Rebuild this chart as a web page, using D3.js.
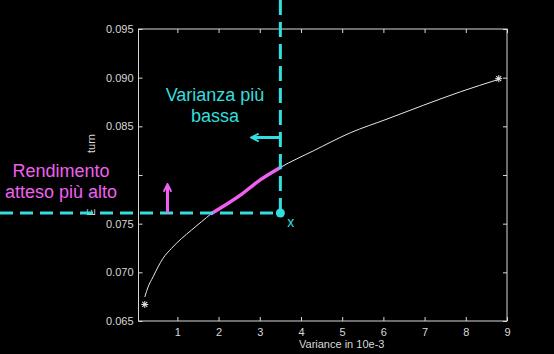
<!DOCTYPE html>
<html>
<head>
<meta charset="utf-8">
<script src="https://cdn.jsdelivr.net/npm/d3@7"></script>
<style>
  body { margin: 0; background: #000; }
  svg { display: block; font-family: "Liberation Sans", Arial, sans-serif; }
</style>
</head>
<body>
<div id="chart"></div>
<script>
// frontier points (variance in 10e-3, expected return)
const variance = [0.21, 0.29, 0.41, 0.53, 0.65, 0.855, 1.10, 1.34, 1.58, 1.83, 2.52, 3.01, 3.50, 4.30, 5.20, 6.09, 6.98, 7.87, 8.80];
const returns  = [0.06747, 0.06850, 0.06953, 0.07055, 0.07142, 0.07245, 0.07347, 0.07433, 0.07518, 0.07605, 0.0779, 0.0795, 0.08078, 0.08248, 0.08434, 0.08575, 0.08718, 0.08855, 0.08983];
const endpoints = [[0.21, 0.0667], [8.80, 0.0899]];
const xTicks = [1, 2, 3, 4, 5, 6, 7, 8, 9];
const yTicks = [0.065, 0.070, 0.075, 0.080, 0.085, 0.090, 0.095];
const hiddenYTick = 0.080;   // its label sits under the text box
const pointX = { v: 3.50, r: 0.0761 };   // portfolio x
const cyan = "#33dede", magenta = "#f060f0";

const width = 554, height = 354;
const margin = { top: 29, right: 47, bottom: 33, left: 138.5 };

const svg = d3.select("#chart").append("svg")
  .attr("width", width).attr("height", height);
svg.append("rect").attr("width", width).attr("height", height).attr("fill", "#000");

const x = d3.scaleLinear().domain([0.057, 9]).range([margin.left, width - margin.right]);
const y = d3.scaleLinear().domain([0.065, 0.095]).range([height - margin.bottom, margin.top]);

const axisColor = "#d8d8d8";
const fmtY = d3.format(".3f");

// axes with inward ticks
const gx = svg.append("g").attr("transform", `translate(0,${y.range()[0]})`)
  .call(d3.axisBottom(x).tickValues(xTicks).tickSize(-4).tickPadding(7).tickFormat(d3.format("d")));
const gxTop = svg.append("g").attr("transform", `translate(0,${y.range()[1]})`)
  .call(d3.axisTop(x).tickValues(xTicks).tickSize(-4).tickFormat(""));
const gy = svg.append("g").attr("transform", `translate(${x.range()[0]},0)`)
  .call(d3.axisLeft(y).tickValues(yTicks).tickSize(-4).tickPadding(5)
    .tickFormat(d => Math.abs(d - hiddenYTick) < 1e-9 ? "" : fmtY(d)));
const gyR = svg.append("g").attr("transform", `translate(${x.range()[1]},0)`)
  .call(d3.axisRight(y).tickValues(yTicks).tickSize(-4).tickFormat(""));

[gx, gxTop, gy, gyR].forEach(g => {
  g.select(".domain").remove();
  g.selectAll("line").attr("stroke", axisColor);
  g.selectAll("text").attr("fill", axisColor).style("font-size", "11px");
});

svg.append("rect")
  .attr("x", x.range()[0]).attr("y", y.range()[1])
  .attr("width", x.range()[1] - x.range()[0])
  .attr("height", y.range()[0] - y.range()[1])
  .attr("fill", "none").attr("stroke", axisColor).attr("stroke-width", 1);

// axis titles
svg.append("text")
  .attr("x", 299).attr("y", 348)
  .attr("fill", axisColor).style("font-size", "11px")
  .text("Variance in 10e-3");

svg.append("text")
  .attr("transform", `translate(95,${(y.range()[0] + y.range()[1]) / 2}) rotate(-90)`)
  .attr("text-anchor", "middle")
  .attr("fill", axisColor).style("font-size", "11px")
  .text("Expected Return");

// frontier curve
const pts = variance.map((v, i) => [v, returns[i]]);
const line = d3.line().x(d => x(d[0])).y(d => y(d[1])).curve(d3.curveMonotoneX);

svg.append("path")
  .attr("d", line(pts))
  .attr("fill", "none").attr("stroke", "#e8e8e8").attr("stroke-width", 1);

// highlighted part (higher return, lower variance)
const hi = pts.filter(d => d[0] >= 1.83 && d[0] <= pointX.v);
svg.append("path")
  .attr("d", line(hi))
  .attr("fill", "none").attr("stroke", magenta).attr("stroke-width", 3.5)
  .attr("stroke-linecap", "round");

// asterisk markers
const star = svg.selectAll("g.star").data(endpoints).enter().append("g")
  .attr("class", "star")
  .attr("transform", d => `translate(${x(d[0])},${y(d[1])})`);
[0, 45, 90, 135].forEach(a => {
  star.append("line")
    .attr("x1", -3.5).attr("x2", 3.5)
    .attr("transform", `rotate(${a})`)
    .attr("stroke", "#e8e8e8").attr("stroke-width", 1);
});

// black text box behind the magenta label (covers part of y title)
svg.append("rect")
  .attr("x", 0).attr("y", 153).attr("width", 134).attr("height", 56)
  .attr("fill", "#000");

// dashed guides
svg.append("line")
  .attr("x1", 0).attr("x2", x(pointX.v))
  .attr("y1", y(pointX.r)).attr("y2", y(pointX.r))
  .attr("stroke", cyan).attr("stroke-width", 3).attr("stroke-dasharray", "13,7");
svg.append("line")
  .attr("x1", x(pointX.v)).attr("x2", x(pointX.v))
  .attr("y1", 0).attr("y2", y(pointX.r))
  .attr("stroke", cyan).attr("stroke-width", 3).attr("stroke-dasharray", "15,7");

svg.append("circle")
  .attr("cx", x(pointX.v)).attr("cy", y(pointX.r)).attr("r", 4.5)
  .attr("fill", cyan);
svg.append("text")
  .attr("x", x(pointX.v) + 7).attr("y", y(pointX.r) + 14)
  .attr("fill", cyan).style("font-size", "14px")
  .text("x");

// arrows
const defs = svg.append("defs");
function arrow(id, color) {
  defs.append("marker")
    .attr("id", id).attr("viewBox", "0 0 10 10")
    .attr("refX", 8).attr("refY", 5)
    .attr("markerWidth", 3.2).attr("markerHeight", 3.2)
    .attr("orient", "auto")
    .append("path").attr("d", "M1,1 L9,5 L1,9")
    .attr("fill", "none").attr("stroke", color).attr("stroke-width", 2);
}
arrow("arrC", cyan);
arrow("arrM", magenta);

svg.append("line")
  .attr("x1", x(pointX.v)).attr("y1", 137.5)
  .attr("x2", 252).attr("y2", 137.5)
  .attr("stroke", cyan).attr("stroke-width", 3)
  .attr("marker-end", "url(#arrC)");

svg.append("line")
  .attr("x1", 167.5).attr("y1", y(pointX.r))
  .attr("x2", 167.5).attr("y2", 185)
  .attr("stroke", magenta).attr("stroke-width", 3)
  .attr("marker-end", "url(#arrM)");

// annotation texts
const cyanText = svg.append("text")
  .attr("text-anchor", "middle").attr("fill", cyan).style("font-size", "18px");
cyanText.append("tspan").attr("x", 215).attr("y", 101).text("Varianza più");
cyanText.append("tspan").attr("x", 215).attr("y", 122).text("bassa");

const magText = svg.append("text")
  .attr("text-anchor", "middle").attr("fill", magenta).style("font-size", "18px");
magText.append("tspan").attr("x", 61).attr("y", 177).text("Rendimento");
magText.append("tspan").attr("x", 61).attr("y", 198).text("atteso più alto");
</script>
</body>
</html>
